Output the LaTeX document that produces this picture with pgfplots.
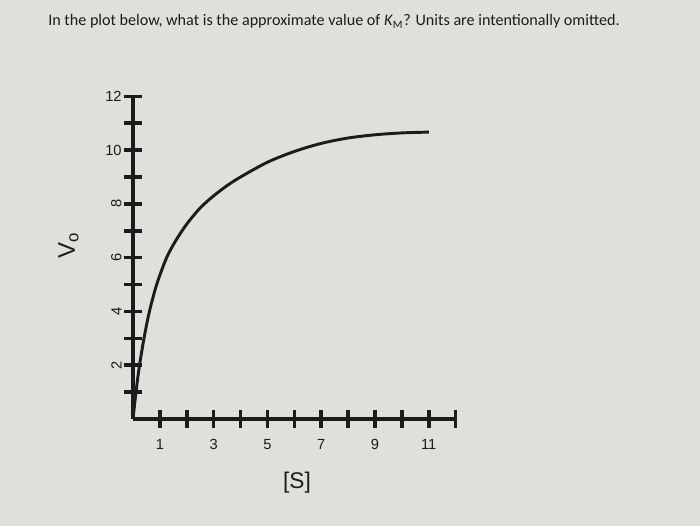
\documentclass[border=0pt]{standalone}
\usepackage{pgfplots}
\pgfplotsset{compat=1.18}
\usepackage{fontspec}
\setmainfont{Liberation Sans}
\newfontfamily\titlefont{Carlito}
\definecolor{paper}{HTML}{DFDFDC}
\definecolor{ink}{HTML}{1C1C1C}

\begin{document}
\begin{tikzpicture}
  % photo background, 700 x 526 px at 0.75pt per px
  \fill[paper] (0,0) rectangle (525pt,394.5pt);
  \node[anchor=base west, inner sep=0pt, text=ink, font=\titlefont\fontsize{12.1}{13}\selectfont]
    at (36pt,375pt) {In the plot below, what is the approximate value of \textit{K}\textsubscript{M}? Units are intentionally omitted.};

  \begin{axis}[
    at={(99.75pt,80.25pt)}, anchor=south west,
    scale only axis,
    width=242pt, height=242pt,
    xmin=0, xmax=12, ymin=0, ymax=12,
    axis lines=left,
    axis line style={-, line width=3.2pt, ink},
    clip=false,
    xtick={1,3,...,11},
    minor xtick={2,4,...,12},
    ytick={2,4,...,12},
    minor ytick={1,3,...,11},
    yticklabels={\rotatebox{90}{2},\rotatebox{90}{4},\rotatebox{90}{6},\rotatebox{90}{8},10,12},
    tick align=center,
    major tick length=14pt,
    minor tick length=14pt,
    xtick style={ink, line width=2.6pt},
    ytick style={ink, line width=2.6pt},
    /pgf/number format/assume math mode=true,
    tick label style={font=\fontsize{11}{12}\selectfont, text=ink},
    xticklabel style={yshift=-5pt},
    yticklabel style={xshift=2pt},
    xlabel={[S]},
    xlabel style={at={(axis cs:6.1,-2.38)}, anchor=center, font=\fontsize{17}{18}\selectfont, text=ink},
    ylabel={V\textsubscript{o}},
    ylabel style={at={(axis cs:-2.4,6.45)}, anchor=center, font=\fontsize{18}{19}\selectfont, text=ink},
  ]
  \addplot[ink, line width=2.2pt, smooth] coordinates {
    (0,0) (0.1,0.9) (0.22,1.85) (0.4,2.95) (0.6,3.95) (0.88,5.0) (1.25,6.0)
    (1.6,6.65) (2.0,7.25) (2.5,7.85) (3.0,8.3) (3.5,8.68) (4.0,9.0)
    (5.0,9.55) (6.0,9.95) (7.0,10.25) (8.0,10.45) (9.0,10.57)
    (10.0,10.64) (11.0,10.67)
  };
  \end{axis}
\end{tikzpicture}
\end{document}
